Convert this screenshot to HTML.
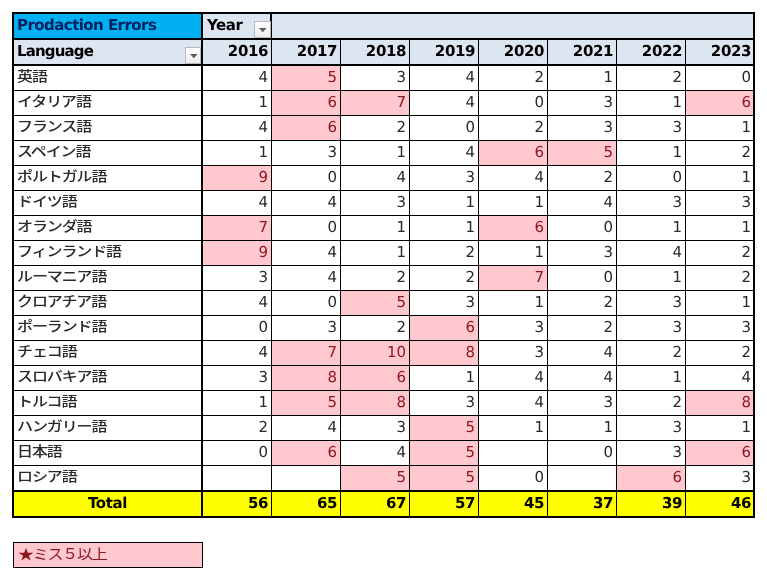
<!DOCTYPE html>
<html lang="ja"><head><meta charset="utf-8"><title>Prodaction Errors</title>
<style>
html,body{margin:0;padding:0;background:#fff;}
body{width:767px;height:581px;position:relative;overflow:hidden;font-family:"DejaVu Sans","Liberation Sans","Noto Sans CJK JP",sans-serif;font-size:14.67px;color:#2a2a2a;}
#grid{position:absolute;left:12px;top:12px;width:743px;height:506px;background:#000;}
.c{position:absolute;box-sizing:border-box;height:24px;line-height:24px;white-space:nowrap;overflow:hidden;background:#fff;}
.c span{display:inline-block;position:relative;top:-1px;}
.n{text-align:right;padding-right:3px;font-size:15px;text-rendering:geometricPrecision;}
.l{text-align:left;padding-left:3px;font-size:16px;font-family:"Liberation Sans","Noto Sans CJK JP",sans-serif;}
.l span{top:-1px;transform:scaleY(0.84);transform-origin:center center;font-weight:500;letter-spacing:-1.1px;}
.hl{text-align:left;padding-left:3px;}
.h{background:#dce6f1;font-weight:bold;color:#000;}
.h1{background:#00b0f0;color:#002060;font-weight:bold;}
.h,.h1,.t{font-size:15px;text-rendering:geometricPrecision;}
.h span,.h1 span,.t span{letter-spacing:-0.4px;}
.ls1 span{letter-spacing:-0.55px;}
.ls2 span{letter-spacing:-0.85px;}
.n.last{padding-right:2px;}
.p{background:#ffc7ce;color:#8f1720;}
.t{background:#ffff00;font-weight:bold;color:#000;}
.dd{position:absolute;width:17px;height:17px;box-sizing:border-box;border:1px solid #b8b8b8;background:linear-gradient(#ffffff,#ececec);}
.dd svg{position:absolute;left:0;top:0;}
#legend{position:absolute;left:13px;top:542px;width:190px;height:26px;box-sizing:border-box;border:1px solid #000;background:#ffc7ce;color:#8f1720;font-size:16px;line-height:24px;padding-left:4px;white-space:nowrap;font-family:"Liberation Sans","Noto Sans CJK JP",sans-serif;}
#legend span{display:inline-block;position:relative;top:-0.5px;transform:scaleY(0.88);transform-origin:center center;font-weight:400;letter-spacing:-1.25px;}
</style></head>
<body>
<div id="grid"></div>
<div class="c h1 hl ls1" style="left:14px;top:14px;width:187px;"><span>Prodaction Errors</span></div>
<div class="c h hl" style="left:203px;top:14px;width:67px;padding-left:4px;"><span>Year</span></div>
<div class="c h" style="left:272px;top:14px;width:481px;"></div>
<div class="dd" style="left:254px;top:21px;"><svg width="15" height="15" viewBox="0 0 15 15"><path d="M4 6 L11.6 6 L7.8 10.2 Z" fill="#5a5a5a"/></svg></div>
<div class="c h hl ls2" style="left:14px;top:40px;width:187px;"><span>Language</span></div>
<div class="dd" style="left:185px;top:47px;width:16px;"><svg width="15" height="15" viewBox="0 0 15 15"><path d="M4 6 L11.6 6 L7.8 10.2 Z" fill="#5a5a5a"/></svg></div>
<div class="c h n" style="left:203px;top:40px;width:68px;"><span>2016</span></div>
<div class="c h n" style="left:272px;top:40px;width:68px;"><span>2017</span></div>
<div class="c h n" style="left:341px;top:40px;width:68px;"><span>2018</span></div>
<div class="c h n" style="left:410px;top:40px;width:68px;"><span>2019</span></div>
<div class="c h n" style="left:479px;top:40px;width:68px;"><span>2020</span></div>
<div class="c h n" style="left:548px;top:40px;width:68px;"><span>2021</span></div>
<div class="c h n" style="left:617px;top:40px;width:68px;"><span>2022</span></div>
<div class="c h n last" style="left:686px;top:40px;width:67px;"><span>2023</span></div>
<div class="c l" style="left:14px;top:66px;width:187px;"><span>英語</span></div>
<div class="c n" style="left:203px;top:66px;width:68px;"><span>4</span></div>
<div class="c n p" style="left:272px;top:66px;width:68px;"><span>5</span></div>
<div class="c n" style="left:341px;top:66px;width:68px;"><span>3</span></div>
<div class="c n" style="left:410px;top:66px;width:68px;"><span>4</span></div>
<div class="c n" style="left:479px;top:66px;width:68px;"><span>2</span></div>
<div class="c n" style="left:548px;top:66px;width:68px;"><span>1</span></div>
<div class="c n" style="left:617px;top:66px;width:68px;"><span>2</span></div>
<div class="c n last" style="left:686px;top:66px;width:67px;"><span>0</span></div>
<div class="c l" style="left:14px;top:91px;width:187px;"><span>イタリア語</span></div>
<div class="c n" style="left:203px;top:91px;width:68px;"><span>1</span></div>
<div class="c n p" style="left:272px;top:91px;width:68px;"><span>6</span></div>
<div class="c n p" style="left:341px;top:91px;width:68px;"><span>7</span></div>
<div class="c n" style="left:410px;top:91px;width:68px;"><span>4</span></div>
<div class="c n" style="left:479px;top:91px;width:68px;"><span>0</span></div>
<div class="c n" style="left:548px;top:91px;width:68px;"><span>3</span></div>
<div class="c n" style="left:617px;top:91px;width:68px;"><span>1</span></div>
<div class="c n p last" style="left:686px;top:91px;width:67px;"><span>6</span></div>
<div class="c l" style="left:14px;top:116px;width:187px;"><span>フランス語</span></div>
<div class="c n" style="left:203px;top:116px;width:68px;"><span>4</span></div>
<div class="c n p" style="left:272px;top:116px;width:68px;"><span>6</span></div>
<div class="c n" style="left:341px;top:116px;width:68px;"><span>2</span></div>
<div class="c n" style="left:410px;top:116px;width:68px;"><span>0</span></div>
<div class="c n" style="left:479px;top:116px;width:68px;"><span>2</span></div>
<div class="c n" style="left:548px;top:116px;width:68px;"><span>3</span></div>
<div class="c n" style="left:617px;top:116px;width:68px;"><span>3</span></div>
<div class="c n last" style="left:686px;top:116px;width:67px;"><span>1</span></div>
<div class="c l" style="left:14px;top:141px;width:187px;"><span>スペイン語</span></div>
<div class="c n" style="left:203px;top:141px;width:68px;"><span>1</span></div>
<div class="c n" style="left:272px;top:141px;width:68px;"><span>3</span></div>
<div class="c n" style="left:341px;top:141px;width:68px;"><span>1</span></div>
<div class="c n" style="left:410px;top:141px;width:68px;"><span>4</span></div>
<div class="c n p" style="left:479px;top:141px;width:68px;"><span>6</span></div>
<div class="c n p" style="left:548px;top:141px;width:68px;"><span>5</span></div>
<div class="c n" style="left:617px;top:141px;width:68px;"><span>1</span></div>
<div class="c n last" style="left:686px;top:141px;width:67px;"><span>2</span></div>
<div class="c l" style="left:14px;top:166px;width:187px;"><span>ポルトガル語</span></div>
<div class="c n p" style="left:203px;top:166px;width:68px;"><span>9</span></div>
<div class="c n" style="left:272px;top:166px;width:68px;"><span>0</span></div>
<div class="c n" style="left:341px;top:166px;width:68px;"><span>4</span></div>
<div class="c n" style="left:410px;top:166px;width:68px;"><span>3</span></div>
<div class="c n" style="left:479px;top:166px;width:68px;"><span>4</span></div>
<div class="c n" style="left:548px;top:166px;width:68px;"><span>2</span></div>
<div class="c n" style="left:617px;top:166px;width:68px;"><span>0</span></div>
<div class="c n last" style="left:686px;top:166px;width:67px;"><span>1</span></div>
<div class="c l" style="left:14px;top:191px;width:187px;"><span>ドイツ語</span></div>
<div class="c n" style="left:203px;top:191px;width:68px;"><span>4</span></div>
<div class="c n" style="left:272px;top:191px;width:68px;"><span>4</span></div>
<div class="c n" style="left:341px;top:191px;width:68px;"><span>3</span></div>
<div class="c n" style="left:410px;top:191px;width:68px;"><span>1</span></div>
<div class="c n" style="left:479px;top:191px;width:68px;"><span>1</span></div>
<div class="c n" style="left:548px;top:191px;width:68px;"><span>4</span></div>
<div class="c n" style="left:617px;top:191px;width:68px;"><span>3</span></div>
<div class="c n last" style="left:686px;top:191px;width:67px;"><span>3</span></div>
<div class="c l" style="left:14px;top:216px;width:187px;"><span>オランダ語</span></div>
<div class="c n p" style="left:203px;top:216px;width:68px;"><span>7</span></div>
<div class="c n" style="left:272px;top:216px;width:68px;"><span>0</span></div>
<div class="c n" style="left:341px;top:216px;width:68px;"><span>1</span></div>
<div class="c n" style="left:410px;top:216px;width:68px;"><span>1</span></div>
<div class="c n p" style="left:479px;top:216px;width:68px;"><span>6</span></div>
<div class="c n" style="left:548px;top:216px;width:68px;"><span>0</span></div>
<div class="c n" style="left:617px;top:216px;width:68px;"><span>1</span></div>
<div class="c n last" style="left:686px;top:216px;width:67px;"><span>1</span></div>
<div class="c l" style="left:14px;top:241px;width:187px;"><span>フィンランド語</span></div>
<div class="c n p" style="left:203px;top:241px;width:68px;"><span>9</span></div>
<div class="c n" style="left:272px;top:241px;width:68px;"><span>4</span></div>
<div class="c n" style="left:341px;top:241px;width:68px;"><span>1</span></div>
<div class="c n" style="left:410px;top:241px;width:68px;"><span>2</span></div>
<div class="c n" style="left:479px;top:241px;width:68px;"><span>1</span></div>
<div class="c n" style="left:548px;top:241px;width:68px;"><span>3</span></div>
<div class="c n" style="left:617px;top:241px;width:68px;"><span>4</span></div>
<div class="c n last" style="left:686px;top:241px;width:67px;"><span>2</span></div>
<div class="c l" style="left:14px;top:266px;width:187px;"><span>ルーマニア語</span></div>
<div class="c n" style="left:203px;top:266px;width:68px;"><span>3</span></div>
<div class="c n" style="left:272px;top:266px;width:68px;"><span>4</span></div>
<div class="c n" style="left:341px;top:266px;width:68px;"><span>2</span></div>
<div class="c n" style="left:410px;top:266px;width:68px;"><span>2</span></div>
<div class="c n p" style="left:479px;top:266px;width:68px;"><span>7</span></div>
<div class="c n" style="left:548px;top:266px;width:68px;"><span>0</span></div>
<div class="c n" style="left:617px;top:266px;width:68px;"><span>1</span></div>
<div class="c n last" style="left:686px;top:266px;width:67px;"><span>2</span></div>
<div class="c l" style="left:14px;top:291px;width:187px;"><span>クロアチア語</span></div>
<div class="c n" style="left:203px;top:291px;width:68px;"><span>4</span></div>
<div class="c n" style="left:272px;top:291px;width:68px;"><span>0</span></div>
<div class="c n p" style="left:341px;top:291px;width:68px;"><span>5</span></div>
<div class="c n" style="left:410px;top:291px;width:68px;"><span>3</span></div>
<div class="c n" style="left:479px;top:291px;width:68px;"><span>1</span></div>
<div class="c n" style="left:548px;top:291px;width:68px;"><span>2</span></div>
<div class="c n" style="left:617px;top:291px;width:68px;"><span>3</span></div>
<div class="c n last" style="left:686px;top:291px;width:67px;"><span>1</span></div>
<div class="c l" style="left:14px;top:316px;width:187px;"><span>ポーランド語</span></div>
<div class="c n" style="left:203px;top:316px;width:68px;"><span>0</span></div>
<div class="c n" style="left:272px;top:316px;width:68px;"><span>3</span></div>
<div class="c n" style="left:341px;top:316px;width:68px;"><span>2</span></div>
<div class="c n p" style="left:410px;top:316px;width:68px;"><span>6</span></div>
<div class="c n" style="left:479px;top:316px;width:68px;"><span>3</span></div>
<div class="c n" style="left:548px;top:316px;width:68px;"><span>2</span></div>
<div class="c n" style="left:617px;top:316px;width:68px;"><span>3</span></div>
<div class="c n last" style="left:686px;top:316px;width:67px;"><span>3</span></div>
<div class="c l" style="left:14px;top:341px;width:187px;"><span>チェコ語</span></div>
<div class="c n" style="left:203px;top:341px;width:68px;"><span>4</span></div>
<div class="c n p" style="left:272px;top:341px;width:68px;"><span>7</span></div>
<div class="c n p" style="left:341px;top:341px;width:68px;"><span>10</span></div>
<div class="c n p" style="left:410px;top:341px;width:68px;"><span>8</span></div>
<div class="c n" style="left:479px;top:341px;width:68px;"><span>3</span></div>
<div class="c n" style="left:548px;top:341px;width:68px;"><span>4</span></div>
<div class="c n" style="left:617px;top:341px;width:68px;"><span>2</span></div>
<div class="c n last" style="left:686px;top:341px;width:67px;"><span>2</span></div>
<div class="c l" style="left:14px;top:366px;width:187px;"><span>スロバキア語</span></div>
<div class="c n" style="left:203px;top:366px;width:68px;"><span>3</span></div>
<div class="c n p" style="left:272px;top:366px;width:68px;"><span>8</span></div>
<div class="c n p" style="left:341px;top:366px;width:68px;"><span>6</span></div>
<div class="c n" style="left:410px;top:366px;width:68px;"><span>1</span></div>
<div class="c n" style="left:479px;top:366px;width:68px;"><span>4</span></div>
<div class="c n" style="left:548px;top:366px;width:68px;"><span>4</span></div>
<div class="c n" style="left:617px;top:366px;width:68px;"><span>1</span></div>
<div class="c n last" style="left:686px;top:366px;width:67px;"><span>4</span></div>
<div class="c l" style="left:14px;top:391px;width:187px;"><span>トルコ語</span></div>
<div class="c n" style="left:203px;top:391px;width:68px;"><span>1</span></div>
<div class="c n p" style="left:272px;top:391px;width:68px;"><span>5</span></div>
<div class="c n p" style="left:341px;top:391px;width:68px;"><span>8</span></div>
<div class="c n" style="left:410px;top:391px;width:68px;"><span>3</span></div>
<div class="c n" style="left:479px;top:391px;width:68px;"><span>4</span></div>
<div class="c n" style="left:548px;top:391px;width:68px;"><span>3</span></div>
<div class="c n" style="left:617px;top:391px;width:68px;"><span>2</span></div>
<div class="c n p last" style="left:686px;top:391px;width:67px;"><span>8</span></div>
<div class="c l" style="left:14px;top:416px;width:187px;"><span>ハンガリー語</span></div>
<div class="c n" style="left:203px;top:416px;width:68px;"><span>2</span></div>
<div class="c n" style="left:272px;top:416px;width:68px;"><span>4</span></div>
<div class="c n" style="left:341px;top:416px;width:68px;"><span>3</span></div>
<div class="c n p" style="left:410px;top:416px;width:68px;"><span>5</span></div>
<div class="c n" style="left:479px;top:416px;width:68px;"><span>1</span></div>
<div class="c n" style="left:548px;top:416px;width:68px;"><span>1</span></div>
<div class="c n" style="left:617px;top:416px;width:68px;"><span>3</span></div>
<div class="c n last" style="left:686px;top:416px;width:67px;"><span>1</span></div>
<div class="c l" style="left:14px;top:441px;width:187px;"><span>日本語</span></div>
<div class="c n" style="left:203px;top:441px;width:68px;"><span>0</span></div>
<div class="c n p" style="left:272px;top:441px;width:68px;"><span>6</span></div>
<div class="c n" style="left:341px;top:441px;width:68px;"><span>4</span></div>
<div class="c n p" style="left:410px;top:441px;width:68px;"><span>5</span></div>
<div class="c n" style="left:479px;top:441px;width:68px;"></div>
<div class="c n" style="left:548px;top:441px;width:68px;"><span>0</span></div>
<div class="c n" style="left:617px;top:441px;width:68px;"><span>3</span></div>
<div class="c n p last" style="left:686px;top:441px;width:67px;"><span>6</span></div>
<div class="c l" style="left:14px;top:466px;width:187px;"><span>ロシア語</span></div>
<div class="c n" style="left:203px;top:466px;width:68px;"></div>
<div class="c n" style="left:272px;top:466px;width:68px;"></div>
<div class="c n p" style="left:341px;top:466px;width:68px;"><span>5</span></div>
<div class="c n p" style="left:410px;top:466px;width:68px;"><span>5</span></div>
<div class="c n" style="left:479px;top:466px;width:68px;"><span>0</span></div>
<div class="c n" style="left:548px;top:466px;width:68px;"></div>
<div class="c n p" style="left:617px;top:466px;width:68px;"><span>6</span></div>
<div class="c n last" style="left:686px;top:466px;width:67px;"><span>3</span></div>
<div class="c t" style="left:14px;top:492px;width:187px;text-align:center;"><span>Total</span></div>
<div class="c t n" style="left:203px;top:492px;width:68px;"><span>56</span></div>
<div class="c t n" style="left:272px;top:492px;width:68px;"><span>65</span></div>
<div class="c t n" style="left:341px;top:492px;width:68px;"><span>67</span></div>
<div class="c t n" style="left:410px;top:492px;width:68px;"><span>57</span></div>
<div class="c t n" style="left:479px;top:492px;width:68px;"><span>45</span></div>
<div class="c t n" style="left:548px;top:492px;width:68px;"><span>37</span></div>
<div class="c t n" style="left:617px;top:492px;width:68px;"><span>39</span></div>
<div class="c t n last" style="left:686px;top:492px;width:67px;"><span>46</span></div>
<div id="legend"><span>★ミス５以上</span></div>
</body></html>
